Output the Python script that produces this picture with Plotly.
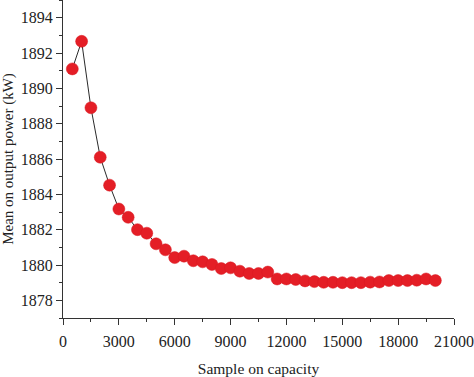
import plotly.graph_objects as go

sample_capacity = [500, 1000, 1500, 2000, 2500, 3000, 3500, 4000, 4500, 5000,
                   5500, 6000, 6500, 7000, 7500, 8000, 8500, 9000, 9500, 10000,
                   10500, 11000, 11500, 12000, 12500, 13000, 13500, 14000, 14500, 15000,
                   15500, 16000, 16500, 17000, 17500, 18000, 18500, 19000, 19500, 20000]
mean_power = [1891.1, 1892.66, 1888.9, 1886.1, 1884.52, 1883.17, 1882.7, 1882.0, 1881.8, 1881.2,
              1880.86, 1880.42, 1880.5, 1880.24, 1880.18, 1880.03, 1879.8, 1879.84, 1879.65, 1879.52,
              1879.52, 1879.6, 1879.21, 1879.21, 1879.18, 1879.1, 1879.06, 1879.02, 1879.02, 1879.0,
              1879.0, 1879.0, 1879.03, 1879.04, 1879.12, 1879.12, 1879.12, 1879.14, 1879.21, 1879.12]

x_ticks = [0, 3000, 6000, 9000, 12000, 15000, 18000, 21000]
y_ticks = [1878, 1880, 1882, 1884, 1886, 1888, 1890, 1892, 1894]

font_family = "Liberation Serif"

fig = go.Figure()
fig.add_trace(go.Scatter(
    x=sample_capacity, y=mean_power, mode="lines+markers",
    line=dict(color="#2a2a2a", width=1),
    marker=dict(color="#E41E26", size=12, line=dict(color="#D81820", width=0.5)),
    showlegend=False,
))

axis_common = dict(
    showline=True, linecolor="#333333", linewidth=1.2,
    ticks="outside", ticklen=6, tickwidth=1.2, tickcolor="#333333",
    showgrid=False, zeroline=False, mirror=False,
    tickfont=dict(family=font_family, size=16, color="#222222"),
)

fig.update_xaxes(
    range=[0, 21000], tickvals=x_ticks, ticktext=[str(v) for v in x_ticks],
    ticklabelstandoff=3,
    minor=dict(ticks="outside", ticklen=3, tickwidth=1.2, tickcolor="#333333", dtick=1500, tick0=0),
    title=dict(text="Sample on capacity", font=dict(family=font_family, size=15.5, color="#222222"), standoff=14),
    **axis_common,
)
fig.update_yaxes(
    range=[1877, 1895], tickvals=y_ticks, ticktext=[str(v) for v in y_ticks],
    minor=dict(ticks="outside", ticklen=3, tickwidth=1.2, tickcolor="#333333", dtick=1, tick0=1877),
    title=dict(text="Mean on output power (kW)", font=dict(family=font_family, size=15, color="#222222"), standoff=8),
    **axis_common,
)

fig.update_layout(
    width=474, height=377,
    margin=dict(l=63, r=20, t=0, b=59),
    plot_bgcolor="white", paper_bgcolor="white",
)

fig.write_html("out.html", config={"displayModeBar": False},
               post_script="document.body.style.margin='0';")
